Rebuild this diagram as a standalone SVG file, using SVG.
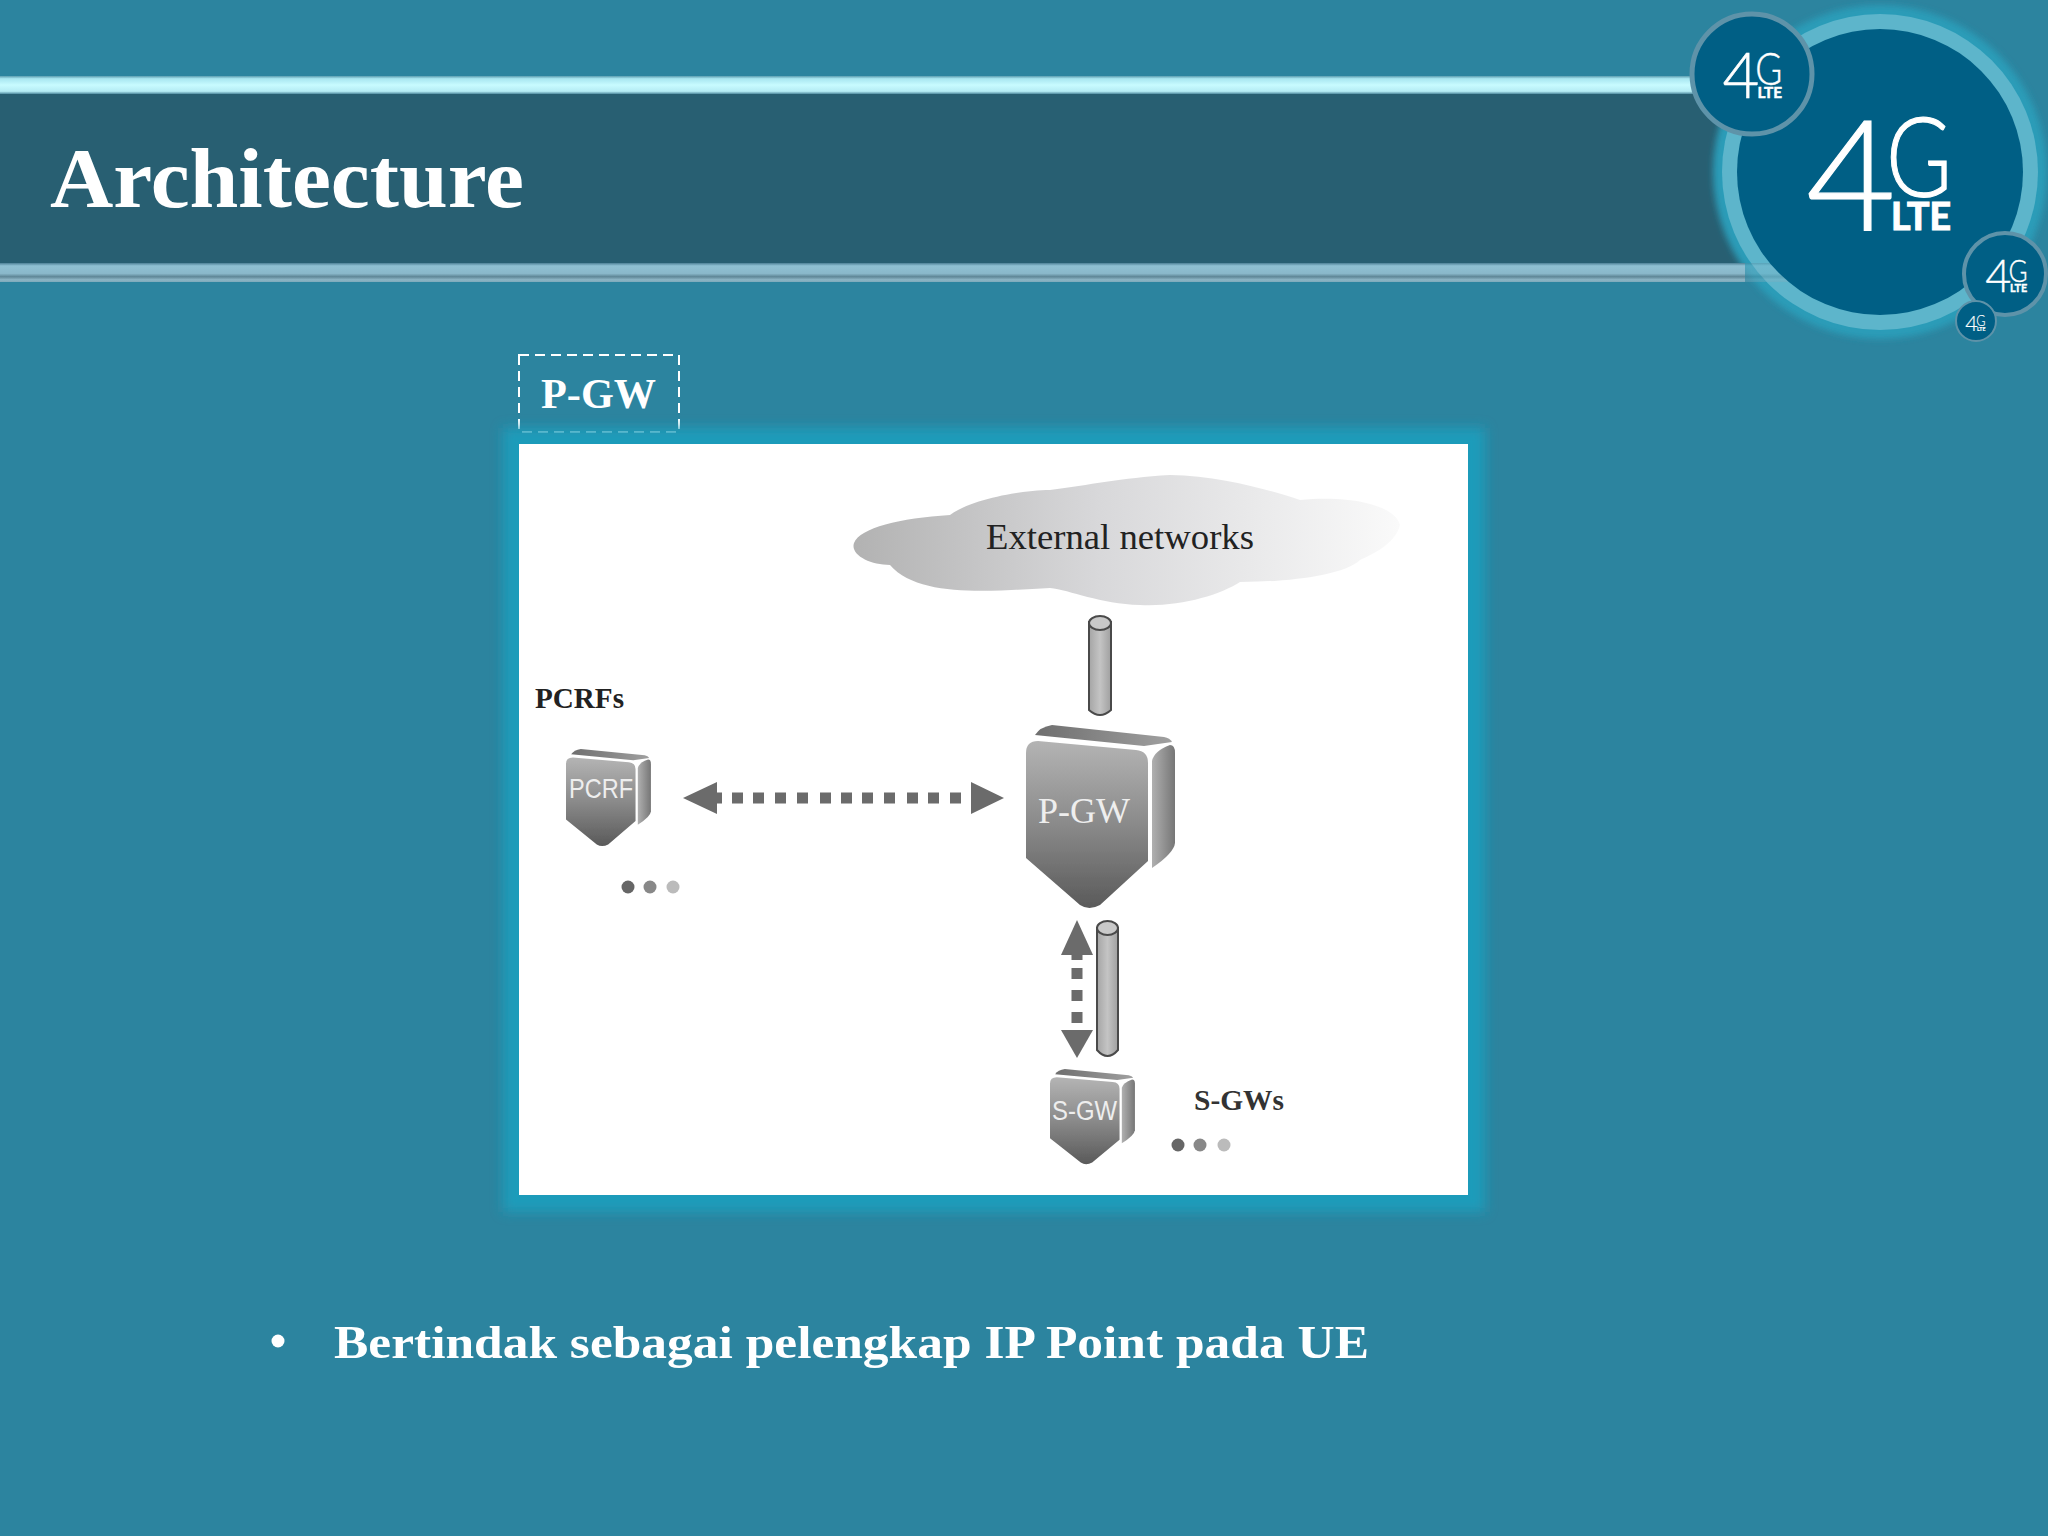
<svg xmlns="http://www.w3.org/2000/svg" width="2048" height="1536" viewBox="0 0 2048 1536">
<defs>
<style>
.s{font-family:"Liberation Serif","Times New Roman",serif}
.a{font-family:"Liberation Sans",Arial,sans-serif}
.w{fill:#fff}
.b{font-weight:700}
.k{fill:#222}
.ar{fill:#6b6b6b}
.cyl{fill:url(#cylG);stroke:#4a4a4a;stroke-width:2}
.cap{fill:#c9c9c9;stroke:#4a4a4a;stroke-width:2}
.nl{fill:#eee}
.lg{fill:#fff;stroke:#fff;stroke-width:1.2;font-family:"Lato","Open Sans",sans-serif}
.disc{fill:#005f85;stroke:#5e93a9;stroke-width:5}
</style>
<linearGradient id="bar1" x1="0" y1="0" x2="0" y2="1"><stop offset="0" stop-color="#5a9db0"/><stop offset=".15" stop-color="#a8e6f0"/><stop offset=".5" stop-color="#c8fbff"/><stop offset=".85" stop-color="#b5ecf4"/><stop offset="1" stop-color="#4f8ba0"/></linearGradient>
<linearGradient id="bar2" x1="0" y1="0" x2="0" y2="1"><stop offset="0" stop-color="#4e8197"/><stop offset=".15" stop-color="#8fc0d2"/><stop offset=".55" stop-color="#8ab8ca"/><stop offset=".72" stop-color="#5f8797"/><stop offset=".88" stop-color="#8db5c5"/><stop offset="1" stop-color="#7daabb"/></linearGradient>
<linearGradient id="cloudG" x1="0" y1="0" x2="1" y2="0"><stop offset="0" stop-color="#b2b2b2"/><stop offset=".45" stop-color="#d8d8da"/><stop offset="1" stop-color="#fafafa"/></linearGradient>
<linearGradient id="frontG" x1="0" y1="0" x2="0" y2="1"><stop offset="0" stop-color="#b4b4b4"/><stop offset=".5" stop-color="#8a8a8a"/><stop offset="1" stop-color="#5a5a5a"/></linearGradient>
<linearGradient id="sideG" x1="0" y1="0" x2="1" y2="0"><stop offset="0" stop-color="#b0b0b0"/><stop offset="1" stop-color="#767676"/></linearGradient>
<linearGradient id="topG" x1="0" y1="0" x2="1" y2="0"><stop offset="0" stop-color="#6e6e6e"/><stop offset="1" stop-color="#a0a0a0"/></linearGradient>
<linearGradient id="cylG" x1="0" y1="0" x2="1" y2="0"><stop offset="0" stop-color="#a5a5a5"/><stop offset=".5" stop-color="#c4c4c4"/><stop offset="1" stop-color="#a0a0a0"/></linearGradient>
<filter id="blur5" x="-5%" y="-5%" width="110%" height="110%"><feGaussianBlur stdDeviation="6"/></filter>
<filter id="blurR" x="-5%" y="-5%" width="110%" height="110%"><feGaussianBlur stdDeviation="3"/></filter>
<filter id="soft" x="-5%" y="-5%" width="110%" height="110%"><feGaussianBlur stdDeviation="0.7"/></filter>
<g id="shape" filter="url(#soft)">
<path d="M9 10Q14 2 26 0L138 12Q144 13 146 17L118 21Z" fill="url(#topG)"/>
<path d="M12 16L110 25Q122 26 122 38L122 136L74 180Q63 186 54 180L0 133L0 28Q0 16 12 16Z" fill="url(#frontG)"/>
<path d="M126 36Q128 26 144 20Q149 20 149 28L149 118Q148 128 126 143Z" fill="url(#sideG)"/>
</g>
<g id="logo">
<text class="lg" x="-6" y="113" font-size="155" font-weight="300">4</text>
<text class="lg" x="74" y="80" font-size="110" font-weight="300" textLength="66" lengthAdjust="spacingAndGlyphs">G</text>
<text class="lg" x="79" y="113" font-size="38" font-weight="700" textLength="60" lengthAdjust="spacingAndGlyphs">LTE</text>
</g>
</defs>

<rect id="background" width="2048" height="1536" fill="#2c849f"/>

<g id="header">
<rect x="0" y="94" width="1760" height="169" fill="#285f72"/>
<rect x="0" y="76" width="1720" height="18" fill="url(#bar1)"/>
</g>

<g id="badge">
<circle cx="1880" cy="172" r="167" fill="#2a9cb8" filter="url(#blurR)"/>
<circle cx="1880" cy="172" r="158" fill="#5db5cb"/>
<rect x="0" y="263" width="1745" height="19" fill="url(#bar2)"/>
<rect x="1745" y="263" width="45" height="19" fill="url(#bar2)" opacity=".35"/>
<circle cx="1880" cy="172" r="143" fill="#005f85"/>
<use href="#logo" transform="translate(1812,117)"/>
<circle class="disc" cx="1752" cy="74" r="60"/>
<use href="#logo" transform="translate(1725,52) scale(.41)"/>
<circle class="disc" cx="2005" cy="274" r="41" style="stroke-width:4"/>
<use href="#logo" transform="translate(1987,259) scale(.29)"/>
<circle class="disc" cx="1976" cy="321" r="20" style="stroke-width:2"/>
<use href="#logo" transform="translate(1966,315) scale(.14)"/>
</g>

<text id="title" class="s b w" x="50" y="207" font-size="84" textLength="474" lengthAdjust="spacingAndGlyphs">Architecture</text>

<g id="caption">
<rect x="519" y="355" width="160" height="77" fill="none" stroke="#fff" stroke-width="2" stroke-dasharray="10 6"/>
<text class="s b w" x="541" y="408" font-size="42" textLength="115" lengthAdjust="spacingAndGlyphs">P-GW</text>
</g>

<g id="figure">
<rect x="503" y="428" width="982" height="784" fill="#1f9bba" filter="url(#blur5)"/>
<rect x="519" y="444" width="949" height="751" fill="#fff"/>
</g>

<g id="external-networks">
<path d="M854 543C860 528 900 518 950 515C970 500 1020 490 1050 490C1090 485 1120 478 1170 475C1220 476 1270 490 1300 500C1350 495 1395 505 1400 525C1395 545 1370 555 1360 560C1345 575 1290 582 1240 582C1220 595 1180 607 1140 605C1100 604 1070 590 1050 588C1000 590 920 600 890 565C870 565 850 555 854 543Z" fill="url(#cloudG)" filter="url(#soft)"/>
<text class="s k" x="986" y="549" font-size="36.5" textLength="268" lengthAdjust="spacingAndGlyphs">External networks</text>
</g>

<g id="connectors">
<g id="tunnel-top">
<path class="cyl" d="M1089 622V710Q1100 720 1111 710V622Z"/>
<ellipse class="cap" cx="1100" cy="623" rx="11" ry="7"/>
</g>
<g id="tunnel-bottom">
<path class="cyl" d="M1097 928V1050Q1107.500 1062 1118 1050V928Z"/>
<ellipse class="cap" cx="1107.500" cy="928" rx="10.500" ry="7"/>
</g>
<g id="arrow-h" class="ar">
<path d="M683 798L717 782V814Z"/>
<rect x="715" y="792.500" width="7" height="11"/>
<rect x="732" y="792.500" width="11" height="11"/><rect x="753" y="792.500" width="11" height="11"/><rect x="775" y="792.500" width="11" height="11"/><rect x="797" y="792.500" width="11" height="11"/><rect x="820" y="792.500" width="11" height="11"/><rect x="841" y="792.500" width="11" height="11"/><rect x="862" y="792.500" width="11" height="11"/><rect x="884" y="792.500" width="11" height="11"/><rect x="907" y="792.500" width="11" height="11"/><rect x="928" y="792.500" width="11" height="11"/><rect x="950" y="792.500" width="11" height="11"/>
<path d="M1004 798L971 782V814Z"/>
</g>
<g id="arrow-v" class="ar">
<path d="M1077 920L1061 955H1093Z"/>
<rect x="1071.500" y="953" width="11" height="7"/>
<rect x="1071.500" y="968" width="11" height="11"/><rect x="1071.500" y="990" width="11" height="11"/><rect x="1071.500" y="1012" width="11" height="11"/>
<path d="M1077 1058L1061 1030H1093Z"/>
</g>
</g>

<g id="p-gw">
<use href="#shape" transform="translate(1026,725)"/>
<text class="s nl" x="1038" y="823" font-size="36" textLength="92" lengthAdjust="spacingAndGlyphs">P-GW</text>
</g>

<g id="pcrf">
<use href="#shape" transform="translate(566,749) scale(.57,.53)"/>
<text class="a nl" x="569" y="798" font-size="28" textLength="64" lengthAdjust="spacingAndGlyphs">PCRF</text>
<text class="s b k" x="535" y="708" font-size="29" textLength="89" lengthAdjust="spacingAndGlyphs">PCRFs</text>
<circle cx="628" cy="887" r="6.500" fill="#666"/><circle cx="650" cy="887" r="6.500" fill="#888"/><circle cx="673" cy="887" r="6.500" fill="#bbb"/>
</g>

<g id="s-gw">
<use href="#shape" transform="translate(1050,1069) scale(.57,.52)"/>
<text class="a nl" x="1052" y="1120" font-size="27" textLength="65" lengthAdjust="spacingAndGlyphs">S-GW</text>
<text class="s b" fill="#333" x="1194" y="1110" font-size="29" textLength="90" lengthAdjust="spacingAndGlyphs">S-GWs</text>
<circle cx="1178" cy="1145" r="6.500" fill="#666"/><circle cx="1200" cy="1145" r="6.500" fill="#888"/><circle cx="1224" cy="1145" r="6.500" fill="#bbb"/>
</g>

<g id="bullets">
<circle cx="278" cy="1341" r="6.500" fill="#fff"/>
<text class="s b w" x="334" y="1358" font-size="46" textLength="1035" lengthAdjust="spacingAndGlyphs">Bertindak sebagai pelengkap IP Point pada UE</text>
</g>
</svg>
